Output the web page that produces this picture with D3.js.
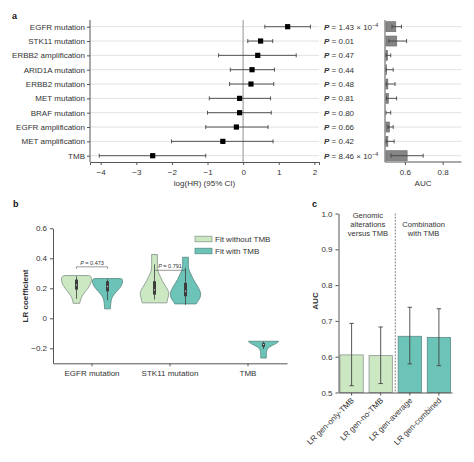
<!DOCTYPE html>
<html>
<head>
<meta charset="utf-8">
<script src="https://cdnjs.cloudflare.com/ajax/libs/d3/7.8.5/d3.min.js"></script>
<style>
  body { margin: 0; background: #fff; }
  svg { font-family: "Liberation Sans", Arial, Helvetica, sans-serif; }
  text { fill: #333; }
  .axis path, .axis line { stroke: #555; stroke-width: 1px; }
  .axis text { fill: #333; font-size: 8px; font-family: "Liberation Sans", Arial, sans-serif; }
  .grid { stroke: #e2e2e2; stroke-width: 1px; }
  .err { stroke: #444; stroke-width: 0.9px; fill: none; }
  .letter { font-size: 9px; font-weight: bold; fill: #111; }
</style>
</head>
<body>
<svg id="fig" width="474" height="462"></svg>
<script>
// ---- panel a: hazard ratios and AUC per genomic feature
var genes = ["EGFR mutation", "STK11 mutation", "ERBB2 amplification", "ARID1A mutation", "ERBB2 mutation",
             "MET mutation", "BRAF mutation", "EGFR amplification", "MET amplification", "TMB"];
var hrEst  = [1.25, 0.49, 0.41, 0.25, 0.22, -0.10, -0.10, -0.19, -0.57, -2.54];
var hrLow  = [0.61, 0.13, -0.69, -0.36, -0.38, -0.95, -1.00, -1.05, -2.01, -4.04];
var hrHigh = [1.89, 0.83, 1.49, 0.88, 0.86, 0.77, 0.79, 0.70, 0.84, -1.05];
var pMantissa = ["1.43", "0.01", "0.47", "0.44", "0.48", "0.81", "0.80", "0.66", "0.42", "8.46"];
var pExponent = ["−4", "", "", "", "", "", "", "", "", "−4"];
var aucGene     = [0.552, 0.557, 0.508, 0.503, 0.510, 0.513, 0.500, 0.519, 0.510, 0.612];
var aucGeneLow  = [0.532, 0.515, 0.500, 0.500, 0.501, 0.502, 0.500, 0.510, 0.500, 0.527];
var aucGeneHigh = [0.582, 0.609, 0.525, 0.538, 0.548, 0.556, 0.525, 0.538, 0.543, 0.697];
var hrTicks = [-4, -3, -2, -1, 0, 1, 2];
var aucTicksA = [0.6, 0.8];

// ---- panel b: LR coefficients (violin outlines: [coefficient, relative width])
var coefCats = ["EGFR mutation", "STK11 mutation", "TMB"];
var fitGroups = ["Fit without TMB", "Fit with TMB"];
var egfrWithout = [[0.285, 0.80], [0.28, 0.93], [0.27, 0.99], [0.26, 1.0], [0.24, 0.97], [0.22, 0.88],
                   [0.20, 0.76], [0.18, 0.60], [0.16, 0.45], [0.14, 0.33], [0.12, 0.26], [0.10, 0.22]];
var egfrWith = [[0.265, 0.86], [0.26, 0.97], [0.25, 1.0], [0.24, 1.0], [0.22, 0.93], [0.20, 0.80],
                [0.18, 0.62], [0.16, 0.45], [0.14, 0.32], [0.12, 0.25], [0.10, 0.22], [0.08, 0.20],
                [0.063, 0.20]];
var stk11Without = [[0.425, 0.20], [0.40, 0.19], [0.36, 0.19], [0.33, 0.20], [0.31, 0.25], [0.28, 0.38],
                    [0.25, 0.52], [0.22, 0.70], [0.19, 0.88], [0.17, 0.95], [0.15, 0.93], [0.13, 0.88],
                    [0.11, 0.84], [0.103, 0.82]];
var stk11With = [[0.407, 0.20], [0.38, 0.19], [0.34, 0.20], [0.32, 0.25], [0.29, 0.38], [0.26, 0.52],
                 [0.23, 0.70], [0.20, 0.88], [0.17, 1.0], [0.15, 1.0], [0.13, 0.93], [0.11, 0.80],
                 [0.096, 0.72]];
var tmbWith = [[-0.153, 1.0], [-0.16, 0.95], [-0.17, 0.80], [-0.18, 0.60], [-0.19, 0.42], [-0.20, 0.30],
               [-0.21, 0.24], [-0.22, 0.20], [-0.24, 0.19], [-0.265, 0.19]];
// inner box: [whisker low, q1, median, q3, whisker high]
var egfrWithoutBox  = [0.13, 0.191, 0.222, 0.258, 0.28];
var egfrWithBox     = [0.12, 0.180, 0.212, 0.247, 0.26];
var stk11WithoutBox = [0.125, 0.158, 0.190, 0.247, 0.36];
var stk11WithBox    = [0.09, 0.147, 0.180, 0.236, 0.336];
var tmbWithBox      = [-0.205, -0.190, -0.175, -0.165, -0.155];
var coefTicks = [-0.2, 0, 0.2, 0.4, 0.6];
var bracketCats = ["EGFR mutation", "STK11 mutation"];
var bracketP = ["0.473", "0.791"];
var bracketLevel = [0.343, 0.32];

// ---- panel c: model AUCs
var modelNames = ["LR gen-only-TMB", "LR gen-no-TMB", "LR gen-average", "LR gen-combined"];
var modelAuc  = [0.605, 0.603, 0.657, 0.654];
var modelLow  = [0.519, 0.525, 0.580, 0.575];
var modelHigh = [0.693, 0.683, 0.738, 0.734];
var modelGroup = [0, 0, 1, 1];
var groupHeaders = [["Genomic", "alterations", "versus TMB"], ["Combination", "with TMB"]];
var aucTicksC = [0.5, 0.6, 0.7, 0.8, 0.9, 1.0];

var lightFill = "#cce8c3", lightStroke = "#7f8f84";
var tealFill = "#6cc3b8", tealStroke = "#55857f";
var groupFill = [lightFill, tealFill], groupStroke = [lightStroke, tealStroke];

var svg = d3.select("#fig");

function styleAxis(g) {
  g.attr("class", "axis");
  g.selectAll("text").attr("font-size", 8);
  return g;
}

function errorBarH(g, y, x0, x1, cap) {
  g.append("line").attr("class", "err").attr("x1", x0).attr("x2", x1).attr("y1", y).attr("y2", y);
  g.append("line").attr("class", "err").attr("x1", x0).attr("x2", x0).attr("y1", y - cap).attr("y2", y + cap);
  g.append("line").attr("class", "err").attr("x1", x1).attr("x2", x1).attr("y1", y - cap).attr("y2", y + cap);
}

function errorBarV(g, x, y0, y1, cap) {
  g.append("line").attr("class", "err").attr("x1", x).attr("x2", x).attr("y1", y0).attr("y2", y1);
  g.append("line").attr("class", "err").attr("x1", x - cap).attr("x2", x + cap).attr("y1", y0).attr("y2", y0);
  g.append("line").attr("class", "err").attr("x1", x - cap).attr("x2", x + cap).attr("y1", y1).attr("y2", y1);
}

// ================= panel a =================
var pa = svg.append("g");
pa.append("text").attr("class", "letter").attr("x", 12).attr("y", 19).text("a");

var rowY = d3.scalePoint().domain(genes).range([26.7, 155.7]);
var hrX = d3.scaleLinear().domain([-4.3, 2.13]).range([90, 319]);
var aucXa = d3.scaleLinear().domain([0.5, 0.9]).range([386, 461.5]);
var plotTop = 20, plotBottom = 162;

genes.forEach(function(g) {
  pa.append("line").attr("class", "grid")
    .attr("x1", hrX.range()[0]).attr("x2", hrX.range()[1]).attr("y1", rowY(g)).attr("y2", rowY(g));
  pa.append("line").attr("class", "grid")
    .attr("x1", aucXa.range()[0]).attr("x2", aucXa.range()[1]).attr("y1", rowY(g)).attr("y2", rowY(g));
});

pa.append("line")
  .attr("x1", hrX(0)).attr("x2", hrX(0)).attr("y1", plotTop).attr("y2", plotBottom)
  .attr("stroke", "#b5b5b5").attr("stroke-width", 1.5);

genes.forEach(function(g, i) {
  errorBarH(pa, rowY(g), hrX(hrLow[i]), hrX(hrHigh[i]), 2);
  pa.append("rect")
    .attr("x", hrX(hrEst[i]) - 2.6).attr("y", rowY(g) - 2.6)
    .attr("width", 5.2).attr("height", 5.2).attr("fill", "#000");
});

pa.append("g").attr("transform", "translate(0," + plotBottom + ")")
  .call(d3.axisBottom(hrX).tickValues(hrTicks).tickFormat(d3.format("d")).tickSize(3).tickPadding(4))
  .call(styleAxis);
pa.append("g").attr("transform", "translate(" + hrX.range()[0] + ",0)")
  .call(d3.axisLeft(rowY).tickSize(3).tickPadding(2))
  .call(styleAxis)
  .call(function(g) { g.select(".domain").attr("d", "M0," + plotTop + "V" + plotBottom); });
pa.append("text").attr("x", (hrX.range()[0] + hrX.range()[1]) / 2).attr("y", 186)
  .attr("text-anchor", "middle").attr("font-size", 8).text("log(HR) (95% CI)");

// P values
genes.forEach(function(g, i) {
  var t = pa.append("text").attr("x", 324).attr("y", rowY(g) + 3).attr("font-size", 8);
  t.append("tspan").attr("font-style", "italic").attr("font-weight", "bold").text("P");
  t.append("tspan").text(" = " + pMantissa[i] + (pExponent[i] ? " × 10" : ""));
  if (pExponent[i]) {
    t.append("tspan").attr("dy", -3).attr("font-size", 5.5).text(pExponent[i]);
  }
});

// AUC bars
genes.forEach(function(g, i) {
  pa.append("rect")
    .attr("x", aucXa(0.5)).attr("y", rowY(g) - 5)
    .attr("width", Math.max(0, aucXa(aucGene[i]) - aucXa(0.5))).attr("height", 10)
    .attr("fill", "#858585").attr("stroke", "#6a6a6a").attr("stroke-width", 0.6);
  errorBarH(pa, rowY(g), aucXa(aucGeneLow[i]), aucXa(aucGeneHigh[i]), 2);
});
pa.append("g").attr("transform", "translate(0," + plotBottom + ")")
  .call(d3.axisBottom(aucXa).tickValues(aucTicksA).tickFormat(d3.format(".1f")).tickSize(3).tickPadding(4))
  .call(styleAxis)
  .call(function(g) { g.select(".domain").attr("d", "M385,0H" + aucXa.range()[1]); });
pa.append("line").attr("x1", 385).attr("x2", 385).attr("y1", plotTop).attr("y2", plotBottom)
  .attr("stroke", "#555");
pa.append("text").attr("x", 423).attr("y", 186).attr("text-anchor", "middle").attr("font-size", 8).text("AUC");

// ================= panel b =================
var pb = svg.append("g");
pb.append("text").attr("class", "letter").attr("x", 13).attr("y", 207).text("b");

var catX = d3.scaleBand().domain(coefCats).range([53, 287]);
var dodge = d3.scalePoint().domain(fitGroups).range([-15.5, 15.5]);
var coefY = d3.scaleLinear().domain([-0.3, 0.6]).range([363.3, 228.3]);
var halfW = d3.scaleLinear().domain([0, 1]).range([0, 15]);

var violins = [
  { cat: coefCats[0], group: 0, profile: egfrWithout, box: egfrWithoutBox },
  { cat: coefCats[0], group: 1, profile: egfrWith, box: egfrWithBox },
  { cat: coefCats[1], group: 0, profile: stk11Without, box: stk11WithoutBox },
  { cat: coefCats[1], group: 1, profile: stk11With, box: stk11WithBox },
  { cat: coefCats[2], group: 1, profile: tmbWith, box: tmbWithBox }
];

violins.forEach(function(v) {
  var cx = catX(v.cat) + catX.bandwidth() / 2 + dodge(fitGroups[v.group]);
  var area = d3.area()
    .curve(d3.curveCatmullRom)
    .y(function(d) { return coefY(d[0]); })
    .x0(function(d) { return cx - halfW(d[1]); })
    .x1(function(d) { return cx + halfW(d[1]); });
  pb.append("path").attr("d", area(v.profile))
    .attr("fill", groupFill[v.group]).attr("stroke", groupStroke[v.group]).attr("stroke-width", 0.8);
  pb.append("line").attr("x1", cx).attr("x2", cx)
    .attr("y1", coefY(v.box[0])).attr("y2", coefY(v.box[4]))
    .attr("stroke", "#3d3d3d").attr("stroke-width", 0.8);
  pb.append("rect").attr("x", cx - 1.5).attr("width", 3)
    .attr("y", coefY(v.box[3])).attr("height", coefY(v.box[1]) - coefY(v.box[3]))
    .attr("fill", "#3d3d3d");
  pb.append("circle").attr("cx", cx).attr("cy", coefY(v.box[2])).attr("r", 0.7)
    .attr("fill", "#ccc");
});

bracketCats.forEach(function(c, i) {
  var xl = catX(c) + catX.bandwidth() / 2 + dodge(fitGroups[0]);
  var xr = catX(c) + catX.bandwidth() / 2 + dodge(fitGroups[1]);
  var yb = coefY(bracketLevel[i]);
  pb.append("path").attr("d", "M" + xl + "," + (yb + 2) + "V" + yb + "H" + xr + "V" + (yb + 2))
    .attr("fill", "none").attr("stroke", "#555").attr("stroke-width", 0.6);
  var t = pb.append("text").attr("x", (xl + xr) / 2).attr("y", yb - 2)
    .attr("text-anchor", "middle").attr("font-size", 5.5);
  t.append("tspan").attr("font-style", "italic").text("P");
  t.append("tspan").text(" = " + bracketP[i]);
});

pb.append("g").attr("transform", "translate(0," + coefY.range()[0] + ")")
  .call(d3.axisBottom(catX).tickSize(3).tickPadding(4).tickSizeOuter(0))
  .call(styleAxis);
pb.append("g").attr("transform", "translate(" + catX.range()[0] + ",0)")
  .call(d3.axisLeft(coefY).tickValues(coefTicks).tickFormat(d3.format("")).tickSize(3).tickPadding(3).tickSizeOuter(0))
  .call(styleAxis);
pb.append("text").attr("transform", "translate(28,296) rotate(-90)")
  .attr("text-anchor", "middle").attr("font-size", 8).attr("font-weight", "bold").text("LR coefficient");

// legend
fitGroups.forEach(function(g, i) {
  var ly = 239 + i * 12;
  pb.append("rect").attr("x", 195).attr("y", ly - 2.8).attr("width", 17).attr("height", 5.6)
    .attr("fill", groupFill[i]).attr("stroke", groupStroke[i]).attr("stroke-width", 0.7);
  pb.append("text").attr("x", 215).attr("y", ly + 3).attr("font-size", 8).text(g);
});

// ================= panel c =================
var pc = svg.append("g");
pc.append("text").attr("class", "letter").attr("x", 312).attr("y", 207).text("c");

var modelX = d3.scaleBand().domain(modelNames).range([338.5, 452]).paddingInner(0.2).paddingOuter(0.05);
var aucYc = d3.scaleLinear().domain([0.5, 1.0]).range([392.5, 213.5]);

modelNames.forEach(function(m, i) {
  pc.append("rect")
    .attr("x", modelX(m)).attr("width", modelX.bandwidth())
    .attr("y", aucYc(modelAuc[i])).attr("height", aucYc(0.5) - aucYc(modelAuc[i]))
    .attr("fill", groupFill[modelGroup[i]]).attr("stroke", modelGroup[i] ? "#5a8984" : "#8a948c")
    .attr("stroke-width", 0.8);
  errorBarV(pc, modelX(m) + modelX.bandwidth() / 2, aucYc(modelLow[i]), aucYc(modelHigh[i]), 2.2);
});

var splitX = (modelX(modelNames[1]) + modelX.bandwidth() + modelX(modelNames[2])) / 2;
pc.append("line").attr("x1", splitX).attr("x2", splitX).attr("y1", aucYc(1.0)).attr("y2", aucYc(0.5))
  .attr("stroke", "#555").attr("stroke-width", 0.7).attr("stroke-dasharray", "2,1.2");

var headerX = [(modelX.range()[0] + splitX) / 2 + 1, (splitX + modelX.range()[1]) / 2];
groupHeaders.forEach(function(lines, gi) {
  lines.forEach(function(l, li) {
    pc.append("text").attr("x", headerX[gi]).attr("y", 218 + li * 9.2 + (gi ? 9.2 : 0))
      .attr("text-anchor", "middle").attr("font-size", 7.6).attr("fill", "#444").text(l);
  });
});

pc.append("g").attr("transform", "translate(0," + aucYc(0.5) + ")")
  .call(d3.axisBottom(modelX).tickSize(3).tickFormat("").tickSizeOuter(0))
  .call(styleAxis);
pc.append("g").attr("transform", "translate(" + modelX.range()[0] + ",0)")
  .call(d3.axisLeft(aucYc).tickValues(aucTicksC).tickFormat(d3.format(".1f")).tickSize(3).tickPadding(3).tickSizeOuter(0))
  .call(styleAxis);
modelNames.forEach(function(m) {
  pc.append("text")
    .attr("transform", "translate(" + (modelX(m) + modelX.bandwidth() / 2 + 3) + ",401) rotate(-45)")
    .attr("text-anchor", "end").attr("font-size", 8).text(m);
});
pc.append("text").attr("transform", "translate(318,301) rotate(-90)")
  .attr("text-anchor", "middle").attr("font-size", 8).attr("font-weight", "bold").text("AUC");
</script>
</body>
</html>
